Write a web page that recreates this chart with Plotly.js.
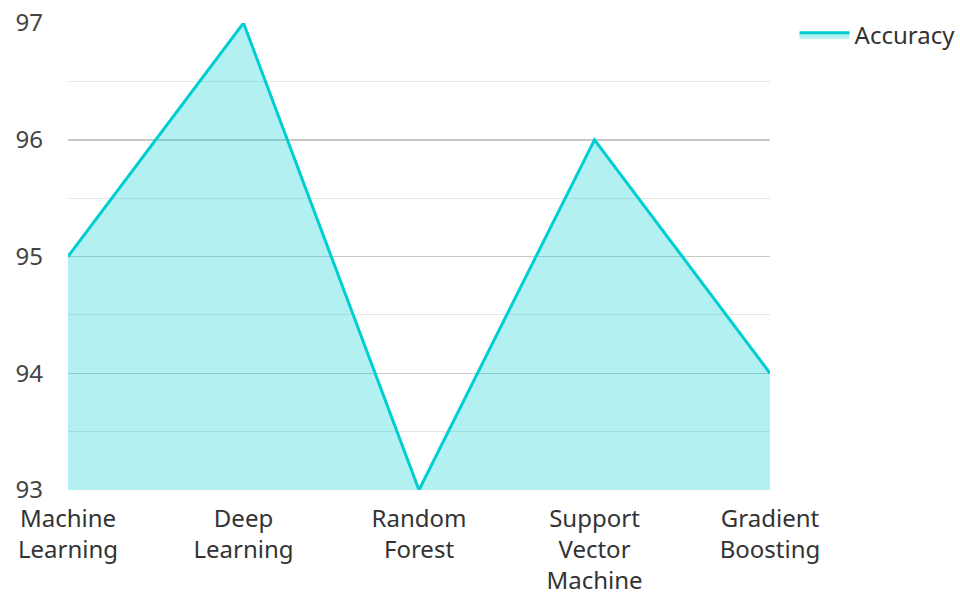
<!DOCTYPE html>
<html>
<head>
<meta charset="utf-8">
<script src="https://cdn.plot.ly/plotly-3.0.1.min.js"></script>
<style>html,body{margin:0;padding:0;background:#fff;}#chart{width:960px;height:594px;}</style>
</head>
<body>
<div id="chart"></div>
<script>
const categories = ["Machine<br>Learning", "Deep<br>Learning", "Random<br>Forest", "Support<br>Vector<br>Machine", "Gradient<br>Boosting"];
const accuracy = [95, 97, 93, 96, 94];
const seriesName = "Accuracy";

const trace = {
  type: "scatter",
  mode: "lines",
  x: categories,
  y: accuracy,
  name: seriesName,
  fill: "tozeroy",
  fillcolor: "rgba(0,206,209,0.3)",
  line: {color: "#00CED1", width: 3}
};

const layout = {
  width: 960,
  height: 594,
  margin: {l: 68, r: 190, t: 23, b: 104, autoexpand: false},
  paper_bgcolor: "#fff",
  plot_bgcolor: "#fff",
  font: {family: "Noto Sans, Open Sans, sans-serif", size: 24, color: "#444"},
  showlegend: true,
  legend: {x: 1.035, y: 1.022, xanchor: "left", yanchor: "top", itemwidth: 50, font: {size: 24, color: "#333"}, bgcolor: "rgba(0,0,0,0)"},
  xaxis: {
    type: "category",
    range: [0, 4],
    showgrid: false,
    zeroline: false,
    showline: false,
    ticks: "",
    ticklabelstandoff: 12,
    tickfont: {size: 24, color: "#333"}
  },
  yaxis: {
    range: [93, 97],
    dtick: 1,
    showgrid: true,
    gridcolor: "#c8c8c8",
    gridwidth: 1.5,
    zeroline: false,
    showline: false,
    ticks: "",
    ticklabelstandoff: 24,
    tickfont: {size: 24, color: "#444"},
    minor: {dtick: 0.5, showgrid: true, gridcolor: "#e6e6e6", gridwidth: 1}
  }
};

Plotly.newPlot("chart", [trace], layout, {displayModeBar: false, staticPlot: true});
</script>
</body>
</html>
